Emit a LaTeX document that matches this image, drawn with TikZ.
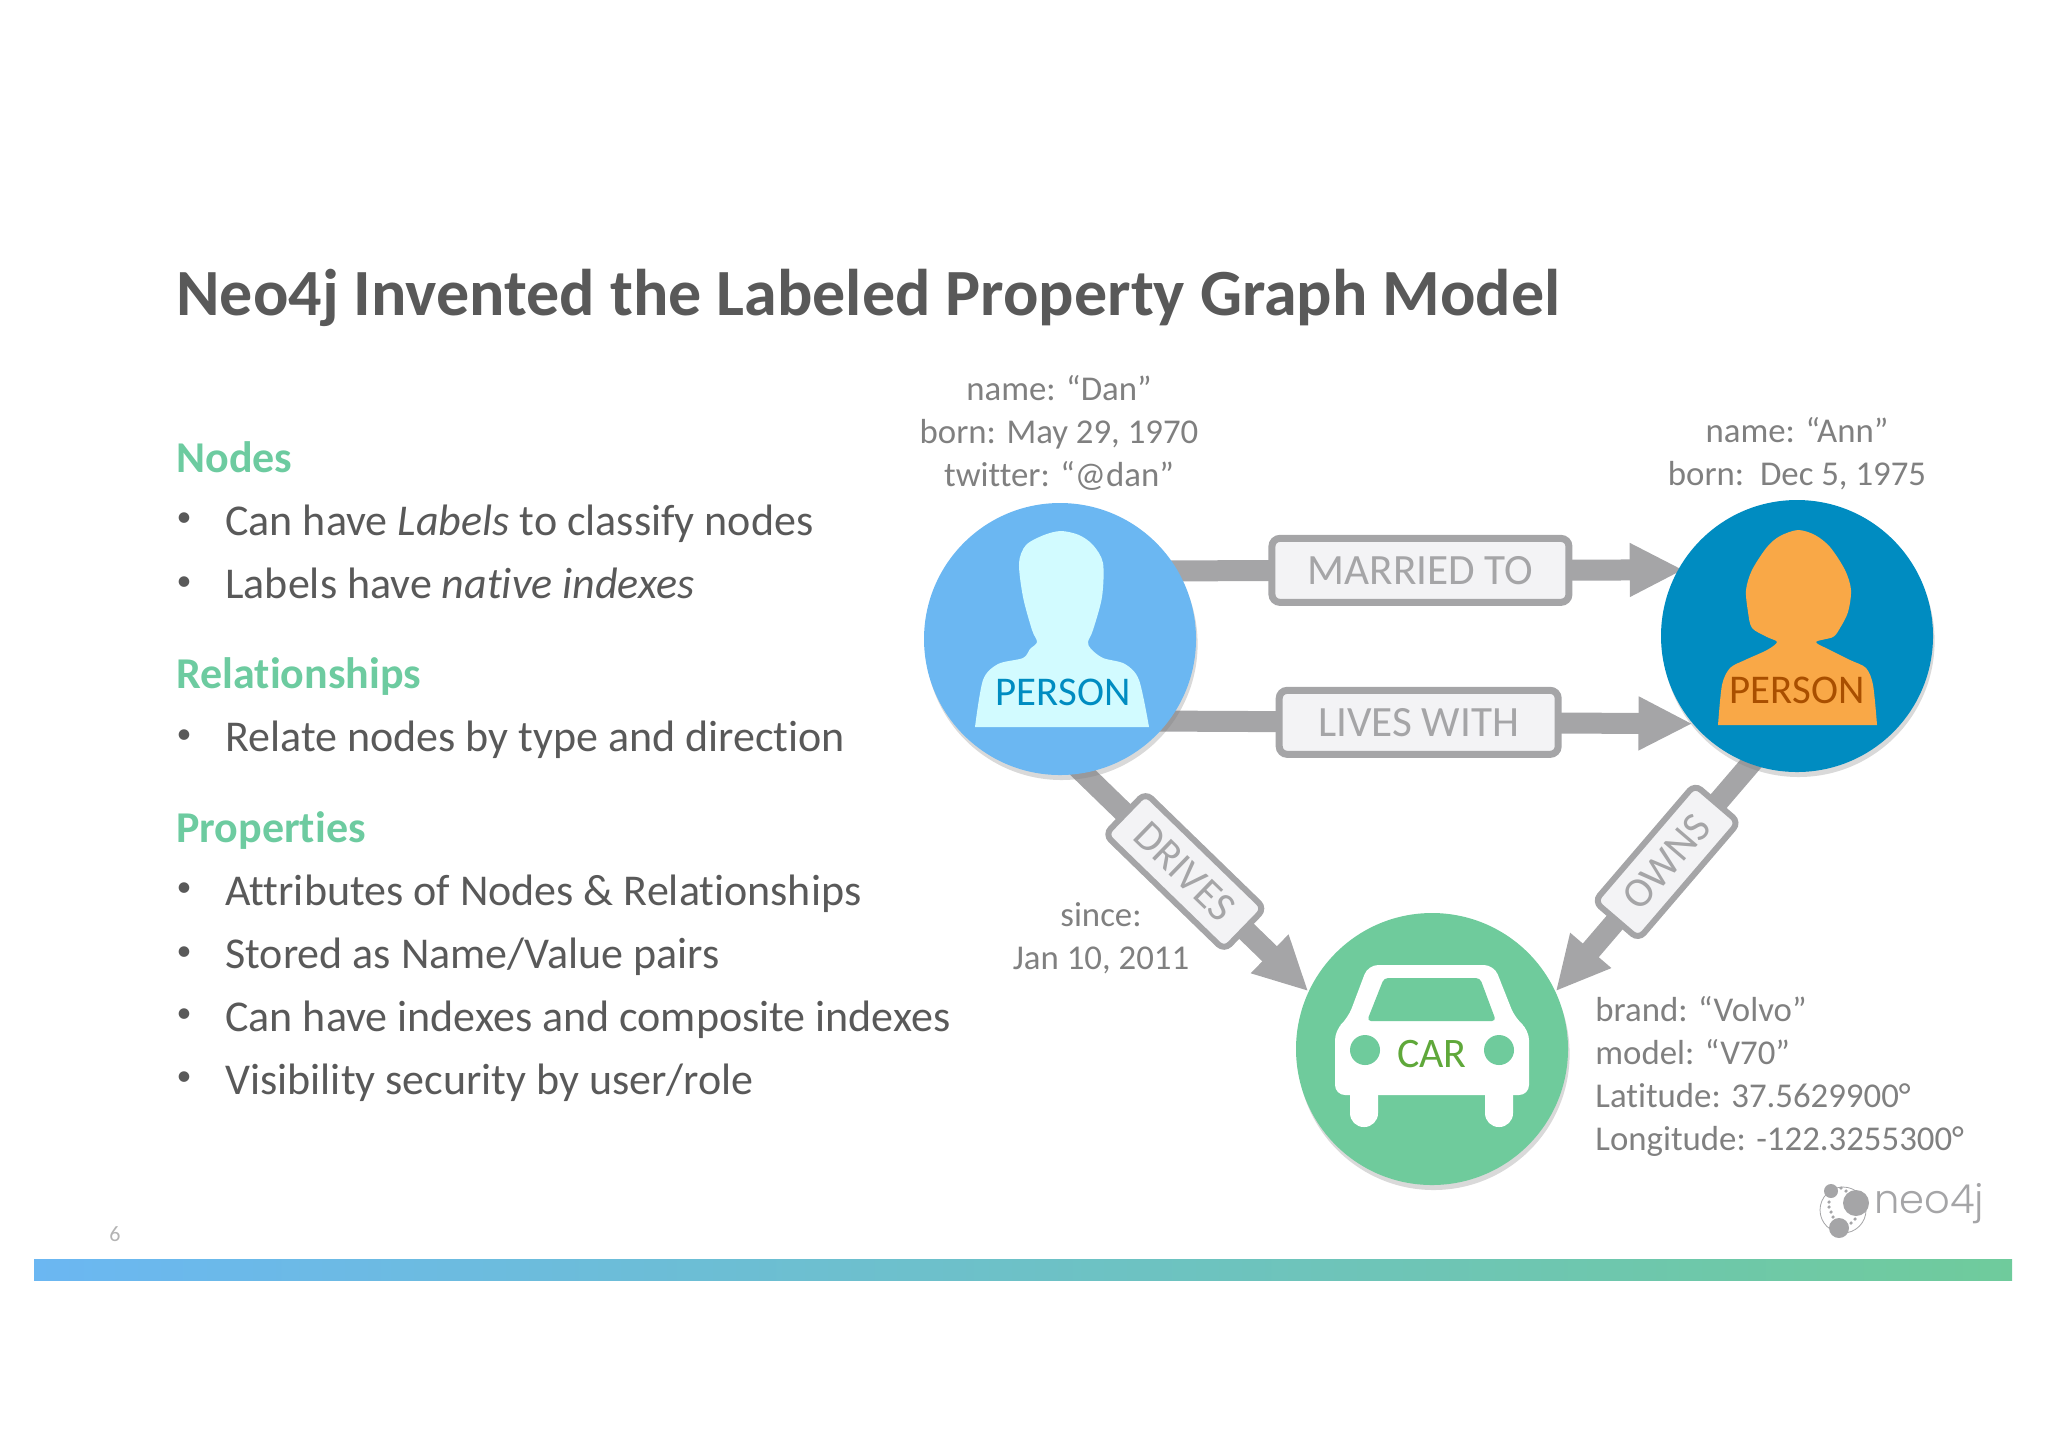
\documentclass[tikz,border=0pt]{standalone}
\usepackage{fontspec}
\setmainfont{Carlito}[Ligatures=CommonOff]
\newfontfamily\logofont{Poppins Light}
\usetikzlibrary{arrows.meta,shadows}
\pgfdeclarelayer{back}
\pgfsetlayers{back,main}
\definecolor{textgray}{HTML}{595959}
\definecolor{propgray}{HTML}{808080}
\definecolor{linegray}{HTML}{A5A5A7}
\definecolor{boxgray}{HTML}{F3F3F5}
\definecolor{headgreen}{HTML}{6DCBA0}
\definecolor{danblue}{HTML}{6BB7F2}
\definecolor{annblue}{HTML}{008CC1}
\definecolor{carcolor}{HTML}{6FCB9C}
\definecolor{shirtblue}{HTML}{D2FBFF}
\definecolor{shirtorange}{HTML}{F9A847}
\definecolor{annlabelcolor}{HTML}{A94F00}
\definecolor{carlabelcolor}{HTML}{5FA83A}
\tikzstyle{connector} = [line width=10.5pt, color=linegray, -{Triangle[length=27pt,width=25pt]}, shorten <=-5pt]
\tikzstyle{linkbox} = [draw=linegray, fill=boxgray, line width=3.5pt, rounded corners=4pt, text=linegray, font=\fontsize{21.6}{24}\selectfont, minimum height=32pt, inner sep=0pt]
\tikzstyle{slopedbox} = [linkbox, sloped, line width=3pt, minimum height=29pt, font=\fontsize{21}{24}\selectfont]
\tikzstyle{entity} = [circle, minimum size=136pt, inner sep=0pt, drop shadow={shadow xshift=.8pt, shadow yshift=-2.5pt, opacity=.3}]
\tikzstyle{props} = [text=propgray, font=\fontsize{17.4}{21.5}\selectfont, inner sep=0pt]
\tikzstyle{heading} = [anchor=west, text=headgreen, font=\fontsize{22}{24}\bfseries\selectfont, inner sep=0pt, text height=14pt, text depth=4pt]
\tikzstyle{item} = [anchor=west, text=textgray, font=\fontsize{22}{24}\selectfont, inner sep=0pt, text height=14pt, text depth=4pt]
\begin{document}
\begin{tikzpicture}[x=0.5pt, y=-0.5pt]
    \useasboundingbox (0,0) rectangle (2048,1448);

    \node (title) [anchor=west, text=textgray, font=\fontsize{33}{36}\bfseries\selectfont, inner sep=0pt] at (176,298) {Neo4j Invented the Labeled Property Graph Model};

    \node (nodes) [heading] at (176,462) {Nodes};
    \node (labels) [item] at (225,525) {Can have \textit{Labels} to classify nodes};
    \node (native) [item] at (225,588) {Labels have \textit{native indexes}};
    \node (relationships) [heading] at (176,678) {Relationships};
    \node (relate) [item] at (225,741) {Relate nodes by type and direction};
    \node (properties) [heading] at (176,832) {Properties};
    \node (attributes) [item] at (225,895) {Attributes of Nodes \& Relationships};
    \node (stored) [item] at (225,958) {Stored as Name/Value pairs};
    \node (composite) [item] at (225,1021) {Can have indexes and composite indexes};
    \node (visibility) [item] at (225,1084) {Visibility security by user/role};
    \foreach \y [count=\i] in {520,584,737,890,954,1016,1079}
        \node (bullet\i) [text=textgray, font=\fontsize{15}{18}\selectfont, inner sep=0pt] at (184,\y) {•};

    \node (dan) [entity, fill=danblue] at (1060,639) {};
    \node (ann) [entity, fill=annblue] at (1797,636) {};
    \node (car) [entity, fill=carcolor] at (1432,1049) {};

    % connectors stay behind the circles
    \begin{pgfonlayer}{back}
        \draw [connector, shorten >=-3pt] (dan.30.3) -- node (married) [linkbox, pos=.485, minimum width=148.5pt] {MARRIED TO} (ann.151);
        \draw [connector] (dan.-37.6) -- node (lives) [linkbox, pos=.477, minimum width=139.5pt] {LIVES WITH} (ann.-140.8);
        \draw [connector] (dan.-80) -- node (drives) [slopedbox, pos=.45, minimum width=83pt] {DRIVES} (car.155);
        \draw [connector] (ann.-110) -- node (owns) [slopedbox, pos=.43, minimum width=77pt] {OWNS} (car.25);
    \end{pgfonlayer}

    % man
    \fill [shirtblue] (975,727) -- plot [smooth, tension=.5] coordinates {(975,727) (983,680) (998,664) (1023,658) (1030,649) (1037,642) (1032,630) (1023,597) (1019,563) (1026,545) (1044,535) (1061,531) (1079,535) (1093,545) (1103,563) (1102,597) (1093,630) (1088,642) (1091,649) (1103,658) (1125,664) (1139,680) (1149,727)} -- cycle;
    % woman
    \fill [shirtorange] (1718,725) -- plot [smooth, tension=.5] coordinates {(1718,725) (1722,685) (1730,668) (1745,660) (1767,650) (1777,642) (1767,637) (1752,628) (1748,612) (1746,590) (1752,570) (1767,547) (1780,536) (1798,530) (1815,535) (1830,547) (1845,570) (1851,590) (1848,612) (1840,628) (1833,637) (1816,642) (1830,650) (1850,660) (1866,668) (1873,685) (1877,725)} -- cycle;
    % car
    \fill [white, rounded corners=5pt] (1335,1095) -- (1335,1030) -- (1348,1018) -- (1368,965) -- (1494,965) -- (1515,1018) -- (1529,1030) -- (1529,1095) -- cycle;
    \fill [white, rounded corners=6.9pt] (1350,1075) rectangle (1378,1127);
    \fill [white, rounded corners=6.9pt] (1485,1075) rectangle (1513,1127);
    \fill [carcolor, rounded corners=2pt] (1367,1021) -- (1384,978) -- (1480,978) -- (1496,1021) -- cycle;
    \fill [carcolor] (1365,1050) circle [radius=15];
    \fill [carcolor] (1499,1050) circle [radius=15];

    \node (danlabel) [font=\fontsize{20.4}{24}\selectfont, text=annblue, inner sep=0pt] at (1063,692) {PERSON};
    \node (annlabel) [font=\fontsize{20.4}{24}\selectfont, text=annlabelcolor, inner sep=0pt] at (1797,690) {PERSON};
    \node (carlabel) [font=\fontsize{21}{24}\selectfont, text=carlabelcolor, inner sep=0pt] at (1432,1054) {CAR};

    \node (danprops) [props, align=center] at (1059,432.5) {name: “Dan”\\born: May 29, 1970\\twitter: “@dan”};
    \node (annprops) [props, align=center] at (1797,453.5) {name: “Ann”\\born:\ \ Dec 5, 1975};
    \node (since) [props, align=center] at (1101,938) {since:\\Jan 10, 2011};
    \node (carprops) [props, align=left, anchor=west] at (1595,1076) {brand: “Volvo”\\model: “V70”\\Latitude: 37.5629900°\\Longitude: -122.3255300°};

    \node (page) [text=propgray!60, font=\fontsize{11}{13}\selectfont, inner sep=0pt] at (115,1234) {6};

    % logo
    \draw [linegray, line width=.4pt] (1843,1210) circle [radius=23];
    \fill [linegray] (1856,1203) circle [radius=13];
    \fill [linegray] (1831,1191) circle [radius=7];
    \fill [linegray] (1839,1228) circle [radius=10];
    \foreach \x/\y in {1841/1188,1846/1191,1829/1202,1829/1207,1831/1212,1833/1217,1855/1219,1851/1223}
        \fill [linegray] (\x,\y) circle [radius=1.8];
    \node (logo) [anchor=west, text=linegray, font=\logofont\fontsize{20}{22}\selectfont, inner sep=0pt] at (1874,1204) {neo4j};

    \node (bar) [minimum width=989pt, minimum height=10.5pt, inner sep=0pt, left color=danblue, right color=carcolor] at (1023,1269.5) {};
\end{tikzpicture}
\end{document}
